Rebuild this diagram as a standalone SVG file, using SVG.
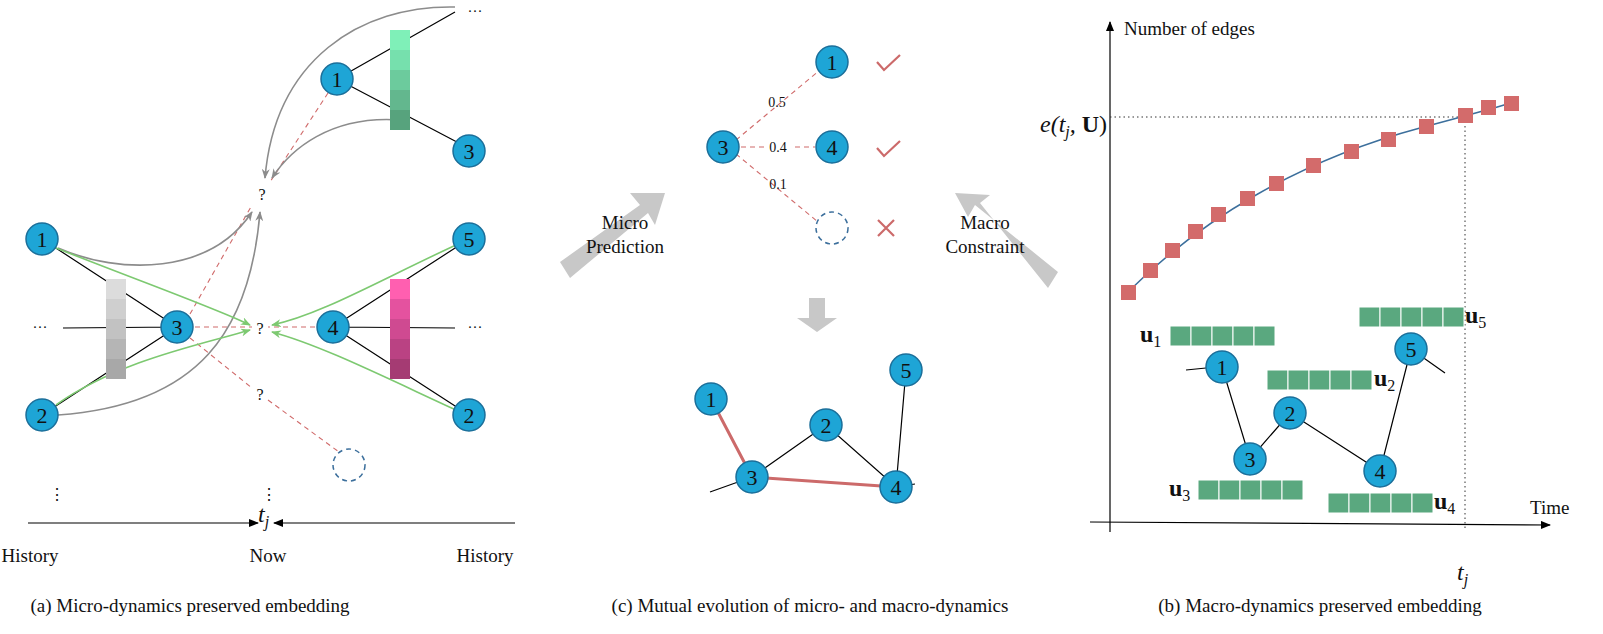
<svg xmlns="http://www.w3.org/2000/svg" width="1603" height="634" viewBox="0 0 1603 634">
<style>
text{font-family:"Liberation Serif",serif;fill:#111}
.n circle{fill:#1ea5d6;stroke:#1b6f9a;stroke-width:1.5}
.n text{font-size:22px;text-anchor:middle}
.e{stroke:#000;stroke-width:1.2;fill:none}
.d{stroke:#d06b6b;stroke-width:1.1;stroke-dasharray:5,4;fill:none}
.g{stroke:#8c8c8c;stroke-width:1.6;fill:none;marker-end:url(#ag)}
.gr{stroke:#7dc971;stroke-width:1.6;fill:none;marker-end:url(#agr)}
.emp{fill:#fff;stroke:#3c6f9c;stroke-width:1.5;stroke-dasharray:5,4}
.cap{font-size:19px;text-anchor:middle}
.lbl{font-size:19px}
.bar rect{fill:#5aa87f;stroke:#fff;stroke-width:1}
.sq{fill:#d36b6b}
.big{fill:#c8c8c8}
</style>
<defs>
<marker id="ag" markerWidth="10" markerHeight="8" refX="9" refY="4" orient="auto" markerUnits="userSpaceOnUse"><path d="M0,0L10,4L0,8L3,4z" fill="#8c8c8c"/></marker>
<marker id="agr" markerWidth="10" markerHeight="8" refX="9" refY="4" orient="auto" markerUnits="userSpaceOnUse"><path d="M0,0L10,4L0,8L3,4z" fill="#7dc971"/></marker>
<marker id="ak" markerWidth="10" markerHeight="8" refX="9" refY="4" orient="auto" markerUnits="userSpaceOnUse"><path d="M0,0L10,4L0,8z" fill="#000"/></marker>
</defs>
<rect width="1603" height="634" fill="#fff"/>
<g id="connectors">
<path class="e" d="M337,79L455,12M337,79L474,151M42,239L177,327M42,415L177,327M63,328L177,327M333,327L469,239M333,327L469,415M333,327L455,328"/>
<path class="d" d="M328,93L270,182M190,314L252,205M195,327L252,327M315,327L268,327M190,338L252,388M268,400L339,452"/>
<path class="g" d="M455,7C360,5,275,60,265,178"/>
<path class="g" d="M400,120C330,115,290,150,272,178"/>
<path class="g" d="M58,248C120,275,210,275,252,212"/>
<path class="g" d="M58,415C200,405,250,330,260,212"/>
<path class="gr" d="M56,248C150,285,220,310,250,325"/>
<path class="gr" d="M56,405C120,360,200,345,250,330"/>
<path class="gr" d="M456,245C380,280,320,315,272,325"/>
<path class="gr" d="M456,410C380,375,320,345,272,332"/>
<path class="d" d="M736,140L820,70M741,147L815,147M736,154L818,222"/>
<path d="M711,399L752,477L896,487" stroke="#cc6a6a" stroke-width="3" fill="none"/>
<path class="e" d="M752,477L826,425L896,487L906,370M695,395L711,399M906,370L922,374M896,487L915,484M752,477L710,492"/>
<path class="e" d="M1222,367L1250,459L1290,413L1380,471L1411,349M1186,370L1206,368M1411,349L1445,373"/>
<path class="e" d="M1110,532L1110,22" marker-end="url(#ak)"/>
<path class="e" d="M1090,522L1550,525" marker-end="url(#ak)"/>
<path d="M1110,117L1465,117M1465,117L1465,530" stroke="#333" stroke-width="1" stroke-dasharray="1.5,3" fill="none"/>
<path d="M1128,292C1200,220,1300,160,1420,128S1500,105,1512,103" stroke="#3c6f9c" stroke-width="1.5" fill="none"/>
<path class="e" d="M28,523L258,523" marker-end="url(#ak)"/>
<path class="e" d="M515,523L274,523" marker-end="url(#ak)"/>
</g>
<g id="bars-a">
<g><rect x="390" y="30" width="20" height="20" fill="#7ff0b8"/><rect x="390" y="50" width="20" height="20" fill="#76e0ad"/><rect x="390" y="70" width="20" height="20" fill="#6ccb9d"/><rect x="390" y="90" width="20" height="20" fill="#63b78e"/><rect x="390" y="110" width="20" height="20" fill="#57a37d"/></g>
<g><rect x="106" y="279" width="20" height="20" fill="#dcdcdc"/><rect x="106" y="299" width="20" height="20" fill="#cfcfcf"/><rect x="106" y="319" width="20" height="20" fill="#c2c2c2"/><rect x="106" y="339" width="20" height="20" fill="#b5b5b5"/><rect x="106" y="359" width="20" height="20" fill="#a8a8a8"/></g>
<g><rect x="390" y="279" width="20" height="20" fill="#ff5fb0"/><rect x="390" y="299" width="20" height="20" fill="#e4529f"/><rect x="390" y="319" width="20" height="20" fill="#cf4a91"/><rect x="390" y="339" width="20" height="20" fill="#ba4283"/><rect x="390" y="359" width="20" height="20" fill="#a53b73"/></g>
</g>
<g id="nodes-a">
<g class="n" id="a-top1"><circle cx="337" cy="79" r="16"/><text x="337" y="87">1</text></g>
<g class="n" id="a-top3"><circle cx="469" cy="151" r="16"/><text x="469" y="159">3</text></g>
<g class="n" id="a-l1"><circle cx="42" cy="239" r="16"/><text x="42" y="247">1</text></g>
<g class="n" id="a-l2"><circle cx="42" cy="415" r="16"/><text x="42" y="423">2</text></g>
<g class="n" id="a-l3"><circle cx="177" cy="327" r="16"/><text x="177" y="335">3</text></g>
<g class="n" id="a-r4"><circle cx="333" cy="327" r="16"/><text x="333" y="335">4</text></g>
<g class="n" id="a-r5"><circle cx="469" cy="239" r="16"/><text x="469" y="247">5</text></g>
<g class="n" id="a-r2"><circle cx="469" cy="415" r="16"/><text x="469" y="423">2</text></g>
<circle class="emp" cx="349" cy="465" r="16"/>
<text x="262" y="200" font-size="16" text-anchor="middle">?</text>
<text x="260" y="334" font-size="16" text-anchor="middle">?</text>
<text x="260" y="400" font-size="16" text-anchor="middle">?</text>
<text x="475" y="16" font-size="15" text-anchor="middle">···</text>
<text x="40" y="332" font-size="15" text-anchor="middle">···</text>
<text x="475" y="332" font-size="15" text-anchor="middle">···</text>
<text x="57" y="500" font-size="16" text-anchor="middle">⋮</text>
<text x="269" y="500" font-size="16" text-anchor="middle">⋮</text>
<text x="258" y="522" font-size="24" font-style="italic">t<tspan font-size="16" dy="5">j</tspan></text>
<text x="30" y="562" class="lbl" text-anchor="middle">History</text>
<text x="268" y="562" class="lbl" text-anchor="middle">Now</text>
<text x="485" y="562" class="lbl" text-anchor="middle">History</text>
<text x="190" y="612" class="cap">(a) Micro-dynamics preserved embedding</text>
</g>
<g id="panel-c">
<g class="n" id="c-1"><circle cx="832" cy="62" r="16"/><text x="832" y="70">1</text></g>
<g class="n" id="c-3"><circle cx="723" cy="147" r="16"/><text x="723" y="155">3</text></g>
<g class="n" id="c-4"><circle cx="832" cy="147" r="16"/><text x="832" y="155">4</text></g>
<circle class="emp" cx="832" cy="228" r="16"/>
<rect x="765" y="138" width="26" height="17" fill="#fff"/>
<text x="777" y="107" font-size="14" text-anchor="middle">0.5</text>
<text x="778" y="152" font-size="14" text-anchor="middle">0.4</text>
<text x="778" y="189" font-size="14" text-anchor="middle">0.1</text>
<path d="M877,62L884,70L900,55M877,148L884,156L900,141" stroke="#cc6a6a" stroke-width="2.2" fill="none"/>
<path d="M878,220L894,236M894,220L878,236" stroke="#cc6a6a" stroke-width="2.2"/>
<path class="big" d="M560,262L640,205L630,193L665,193L655,225L648,213L570,278z"/>
<path class="big" d="M1058,272L975,205L968,217L955,193L990,195L980,203L1048,288z"/>
<path class="big" d="M809,298H825V318H837L817,332L797,318H809z"/>
<text x="625" y="229" class="lbl" text-anchor="middle">Micro</text>
<text x="625" y="253" class="lbl" text-anchor="middle">Prediction</text>
<text x="985" y="229" class="lbl" text-anchor="middle">Macro</text>
<text x="985" y="253" class="lbl" text-anchor="middle">Constraint</text>
<g class="n" id="c-b1"><circle cx="711" cy="399" r="16"/><text x="711" y="407">1</text></g>
<g class="n" id="c-b3"><circle cx="752" cy="477" r="16"/><text x="752" y="485">3</text></g>
<g class="n" id="c-b2"><circle cx="826" cy="425" r="16"/><text x="826" y="433">2</text></g>
<g class="n" id="c-b5"><circle cx="906" cy="370" r="16"/><text x="906" y="378">5</text></g>
<g class="n" id="c-b4"><circle cx="896" cy="487" r="16"/><text x="896" y="495">4</text></g>
<text x="810" y="612" class="cap">(c) Mutual evolution of micro- and macro-dynamics</text>
</g>
<g id="panel-b">
<text x="1124" y="35" class="lbl">Number of edges</text>
<text x="1040" y="132" font-size="24" font-style="italic">e(t<tspan font-size="16" dy="5">j</tspan><tspan dy="-5">, </tspan><tspan font-weight="bold" font-style="normal">U</tspan><tspan font-style="normal">)</tspan></text>
<text x="1530" y="514" class="lbl">Time</text>
<text x="1457" y="580" font-size="24" font-style="italic">t<tspan font-size="16" dy="5">j</tspan></text>
<g>
<rect class="sq" x="1121" y="285" width="15" height="15"/><rect class="sq" x="1143" y="263" width="15" height="15"/><rect class="sq" x="1165" y="243" width="15" height="15"/><rect class="sq" x="1188" y="224" width="15" height="15"/><rect class="sq" x="1211" y="207" width="15" height="15"/><rect class="sq" x="1240" y="191" width="15" height="15"/><rect class="sq" x="1269" y="176" width="15" height="15"/><rect class="sq" x="1306" y="158" width="15" height="15"/><rect class="sq" x="1344" y="144" width="15" height="15"/><rect class="sq" x="1381" y="132" width="15" height="15"/><rect class="sq" x="1419" y="119" width="15" height="15"/><rect class="sq" x="1458" y="108" width="15" height="15"/><rect class="sq" x="1481" y="100" width="15" height="15"/><rect class="sq" x="1504" y="96" width="15" height="15"/>
</g>
<g class="bar"><rect x="1170" y="326" width="21" height="20"/><rect x="1191" y="326" width="21" height="20"/><rect x="1212" y="326" width="21" height="20"/><rect x="1233" y="326" width="21" height="20"/><rect x="1254" y="326" width="21" height="20"/></g>
<g class="bar"><rect x="1267" y="370" width="21" height="20"/><rect x="1288" y="370" width="21" height="20"/><rect x="1309" y="370" width="21" height="20"/><rect x="1330" y="370" width="21" height="20"/><rect x="1351" y="370" width="21" height="20"/></g>
<g class="bar"><rect x="1359" y="307" width="21" height="20"/><rect x="1380" y="307" width="21" height="20"/><rect x="1401" y="307" width="21" height="20"/><rect x="1422" y="307" width="21" height="20"/><rect x="1443" y="307" width="21" height="20"/></g>
<g class="bar"><rect x="1198" y="480" width="21" height="20"/><rect x="1219" y="480" width="21" height="20"/><rect x="1240" y="480" width="21" height="20"/><rect x="1261" y="480" width="21" height="20"/><rect x="1282" y="480" width="21" height="20"/></g>
<g class="bar"><rect x="1328" y="493" width="21" height="20"/><rect x="1349" y="493" width="21" height="20"/><rect x="1370" y="493" width="21" height="20"/><rect x="1391" y="493" width="21" height="20"/><rect x="1412" y="493" width="21" height="20"/></g>
<text x="1140" y="342" font-size="24" font-weight="bold">u<tspan font-size="16" font-weight="normal" dy="5">1</tspan></text>
<text x="1374" y="386" font-size="24" font-weight="bold">u<tspan font-size="16" font-weight="normal" dy="5">2</tspan></text>
<text x="1465" y="323" font-size="24" font-weight="bold">u<tspan font-size="16" font-weight="normal" dy="5">5</tspan></text>
<text x="1169" y="496" font-size="24" font-weight="bold">u<tspan font-size="16" font-weight="normal" dy="5">3</tspan></text>
<text x="1434" y="509" font-size="24" font-weight="bold">u<tspan font-size="16" font-weight="normal" dy="5">4</tspan></text>
<g class="n" id="b-1"><circle cx="1222" cy="367" r="16"/><text x="1222" y="375">1</text></g>
<g class="n" id="b-2"><circle cx="1290" cy="413" r="16"/><text x="1290" y="421">2</text></g>
<g class="n" id="b-3"><circle cx="1250" cy="459" r="16"/><text x="1250" y="467">3</text></g>
<g class="n" id="b-4"><circle cx="1380" cy="471" r="16"/><text x="1380" y="479">4</text></g>
<g class="n" id="b-5"><circle cx="1411" cy="349" r="16"/><text x="1411" y="357">5</text></g>
<text x="1320" y="612" class="cap">(b) Macro-dynamics preserved embedding</text>
</g>
</svg>
